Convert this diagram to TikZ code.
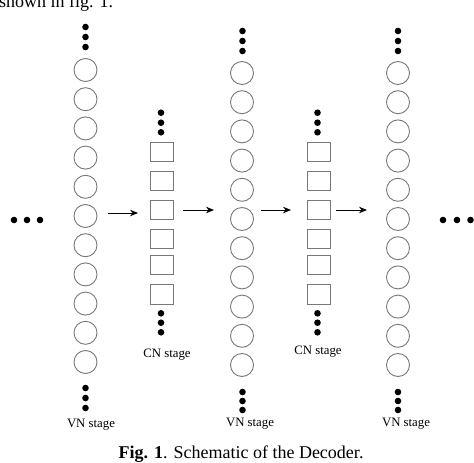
\documentclass[tikz,border=0pt]{standalone}
\usepackage{fontspec}
\setmainfont{Liberation Serif}
\usetikzlibrary{arrows.meta}
\definecolor{shapegray}{RGB}{120,120,120}
\begin{document}
\begin{tikzpicture}[x=1pt,y=-1pt,
  vn/.style={circle,draw=shapegray,line width=0.9pt,minimum size=23pt,inner sep=0pt},
  cn/.style={rectangle,draw=shapegray,line width=0.9pt,minimum width=23pt,minimum height=19.5pt,inner sep=0pt},
  dot/.style={circle,fill=black,inner sep=0pt,minimum size=6.6pt},
  arr/.style={-{Stealth[length=8pt,width=6.5pt]},line width=1pt},
  lbl/.style={font=\fontsize{12.8}{14}\selectfont,inner sep=0pt},
  capt/.style={font=\fontsize{18}{20}\selectfont,inner sep=0pt}]
\useasboundingbox (0,0) rectangle (474,463);

% cut-off text at top
\node[capt,anchor=base west] (toptext) at (-1,8) {shown in fig. 1.};

% VN column 1
\foreach \k in {1,...,11} \node[vn] (va\k) at (85.5,{70+29.2*(\k-1)}) {};
\node[dot] (vat1) at (85.5,27) {};
\node[dot] (vat2) at (85.5,37) {};
\node[dot] (vat3) at (85.5,47) {};
\node[dot] (vab1) at (85.5,388) {};
\node[dot] (vab2) at (85.5,398) {};
\node[dot] (vab3) at (85.5,408) {};
\node[lbl] (vala) at (91,425) {VN stage};

% VN column 2
\foreach \k in {1,...,11} \node[vn] (vb\k) at (242,{73+29.2*(\k-1)}) {};
\node[dot] (vbt1) at (242.5,31) {};
\node[dot] (vbt2) at (242.5,41) {};
\node[dot] (vbt3) at (242.5,51) {};
\node[dot] (vbb1) at (242.5,392) {};
\node[dot] (vbb2) at (242.5,401) {};
\node[dot] (vbb3) at (242.5,410) {};
\node[lbl] (vblb) at (250,424) {VN stage};

% VN column 3
\foreach \k in {1,...,11} \node[vn] (vc\k) at (398,{73+29.2*(\k-1)}) {};
\node[dot] (vct1) at (398,31) {};
\node[dot] (vct2) at (398,41) {};
\node[dot] (vct3) at (398,51) {};
\node[dot] (vcb1) at (398,392) {};
\node[dot] (vcb2) at (398,401) {};
\node[dot] (vcb3) at (398,410) {};
\node[lbl] (vclb) at (406,424) {VN stage};

% CN column 1
\foreach \y [count=\k] in {151.7,181,210,239,265,294.3} \node[cn] (ca\k) at (162.3,\y) {};
\node[dot] (cat1) at (161,112.7) {};
\node[dot] (cat2) at (161,122.7) {};
\node[dot] (cat3) at (161,132.3) {};
\node[dot] (cab1) at (161,313.3) {};
\node[dot] (cab2) at (161,322.7) {};
\node[dot] (cab3) at (161,332.3) {};
\node[lbl] (cala) at (167,355) {CN stage};

% CN column 2
\foreach \y [count=\k] in {151.7,181,210,239,265,294.3} \node[cn] (cb\k) at (318.7,\y) {};
\node[dot] (cbt1) at (317.5,112.7) {};
\node[dot] (cbt2) at (317.5,122.7) {};
\node[dot] (cbt3) at (317.5,132.3) {};
\node[dot] (cbb1) at (317.5,313.3) {};
\node[dot] (cbb2) at (317.5,322.7) {};
\node[dot] (cbb3) at (317.5,332.3) {};
\node[lbl] (cblb) at (318,352) {CN stage};

% side dots
\node[dot] (l1) at (14,220) {};
\node[dot] (l2) at (27,220) {};
\node[dot] (l3) at (40,220) {};
\node[dot] (r1) at (443,220) {};
\node[dot] (r2) at (457,220) {};
\node[dot] (r3) at (470.5,220) {};

% arrows
\coordinate (a1s) at (108,213); \coordinate (a1e) at (138,213);
\coordinate (a2s) at (183,210); \coordinate (a2e) at (214,210);
\coordinate (a3s) at (261,210); \coordinate (a3e) at (291,210);
\coordinate (a4s) at (336,210); \coordinate (a4e) at (367,210);
\draw[arr] (a1s) -- (a1e);
\draw[arr] (a2s) -- (a2e);
\draw[arr] (a3s) -- (a3e);
\draw[arr] (a4s) -- (a4e);

% caption
\node[capt,anchor=base] (caption) at (241,458) {\textbf{Fig. 1}. Schematic of the Decoder.};
\end{tikzpicture}
\end{document}
